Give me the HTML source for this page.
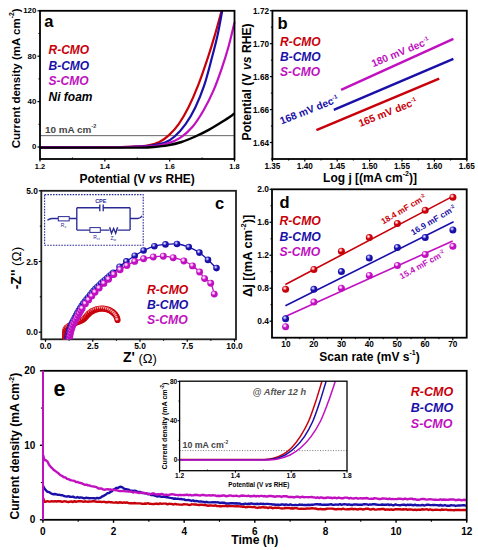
<!DOCTYPE html><html><head><meta charset="utf-8"><style>html,body{margin:0;padding:0;background:#fff;width:478px;height:550px;overflow:hidden}svg{display:block}text{font-family:"Liberation Sans", sans-serif}</style></head><body>
<svg width="478" height="550" viewBox="0 0 478 550">
<defs>
<radialGradient id="gr" cx="0.38" cy="0.35" r="0.65"><stop offset="0" stop-color="#fff"/><stop offset="0.18" stop-color="#ffb0b0"/><stop offset="0.5" stop-color="#c8000a"/><stop offset="1" stop-color="#c8000a"/></radialGradient>
<radialGradient id="gb" cx="0.38" cy="0.35" r="0.65"><stop offset="0" stop-color="#fff"/><stop offset="0.18" stop-color="#a0a0ff"/><stop offset="0.5" stop-color="#1a10a8"/><stop offset="1" stop-color="#1a10a8"/></radialGradient>
<radialGradient id="gm" cx="0.38" cy="0.35" r="0.65"><stop offset="0" stop-color="#fff"/><stop offset="0.18" stop-color="#ffc0ff"/><stop offset="0.5" stop-color="#c010c0"/><stop offset="1" stop-color="#c010c0"/></radialGradient>
</defs>
<rect width="478" height="550" fill="#fff"/>
<line x1="40.00" y1="135.65" x2="234.50" y2="135.65" stroke="#555" stroke-width="0.90" />
<text x="45.00" y="132.70" font-size="9.90" font-weight="bold" font-style="normal" text-anchor="start" fill="#444" >10 mA cm<tspan dy="-5.00" font-size="5.50">-2</tspan><tspan dy="5.00"></tspan></text>
<path d="M40.00,147.30 C51.67,147.28 95.00,147.28 110.00,147.20 C125.00,147.12 125.00,146.97 130.00,146.80 C135.00,146.63 136.95,146.43 140.00,146.20 C143.05,145.97 145.07,146.10 148.30,145.40 C151.53,144.70 155.95,143.72 159.40,142.00 C162.85,140.28 165.78,138.08 169.00,135.10 C172.22,132.12 175.47,128.70 178.70,124.10 C181.93,119.50 185.17,113.95 188.40,107.50 C191.63,101.05 194.87,93.68 198.10,85.40 C201.33,77.12 205.03,66.10 207.80,57.80 C210.57,49.50 212.40,43.43 214.70,35.60 C217.00,27.77 220.45,14.93 221.60,10.80" fill="none" stroke="#c8000a" stroke-width="2.2"/>
<path d="M40.00,147.30 C51.67,147.28 94.17,147.32 110.00,147.20 C125.83,147.08 128.15,146.87 135.00,146.60 C141.85,146.33 146.12,146.27 151.10,145.60 C156.08,144.93 160.98,144.12 164.90,142.60 C168.82,141.08 171.15,139.58 174.60,136.50 C178.05,133.42 182.15,128.93 185.60,124.10 C189.05,119.27 192.20,113.95 195.30,107.50 C198.40,101.05 201.43,93.68 204.20,85.40 C206.97,77.12 209.68,66.10 211.90,57.80 C214.12,49.50 215.78,43.43 217.50,35.60 C219.22,27.77 221.42,14.93 222.20,10.80" fill="none" stroke="#1a10a8" stroke-width="2.2"/>
<path d="M40.00,147.30 C51.67,147.28 93.67,147.30 110.00,147.20 C126.33,147.10 130.70,146.87 138.00,146.70 C145.30,146.53 148.85,146.75 153.80,146.20 C158.75,145.65 163.32,144.78 167.70,143.40 C172.08,142.02 175.95,140.67 180.10,137.90 C184.25,135.13 188.68,131.40 192.60,126.80 C196.52,122.20 200.15,116.28 203.60,110.30 C207.05,104.32 210.30,97.82 213.30,90.90 C216.30,83.98 219.07,76.17 221.60,68.80 C224.13,61.43 226.43,54.07 228.50,46.70 C230.57,39.33 233.00,28.52 234.00,24.60 C235.00,20.68 234.42,23.43 234.50,23.20" fill="none" stroke="#c010c0" stroke-width="2.2"/>
<path d="M40.00,147.60 C53.33,147.60 103.33,147.60 120.00,147.60 C136.67,147.60 134.37,147.70 140.00,147.60 C145.63,147.50 149.18,147.37 153.80,147.00 C158.42,146.63 163.08,146.23 167.70,145.40 C172.32,144.57 176.90,143.48 181.50,142.00 C186.10,140.52 190.68,138.57 195.30,136.50 C199.92,134.43 204.58,132.13 209.20,129.60 C213.82,127.07 218.78,123.97 223.00,121.30 C227.22,118.63 232.58,114.88 234.50,113.60" fill="none" stroke="#000" stroke-width="2.4"/>
<rect x="40.00" y="10.80" width="194.50" height="148.20" fill="none" stroke="#000" stroke-width="1.80"/>
<line x1="37.50" y1="147.00" x2="40.00" y2="147.00" stroke="#000" stroke-width="1.20" />
<line x1="37.50" y1="101.60" x2="40.00" y2="101.60" stroke="#000" stroke-width="1.20" />
<line x1="37.50" y1="56.20" x2="40.00" y2="56.20" stroke="#000" stroke-width="1.20" />
<line x1="37.50" y1="10.80" x2="40.00" y2="10.80" stroke="#000" stroke-width="1.20" />
<line x1="38.50" y1="124.30" x2="40.00" y2="124.30" stroke="#000" stroke-width="1.00" />
<line x1="38.50" y1="78.90" x2="40.00" y2="78.90" stroke="#000" stroke-width="1.00" />
<line x1="38.50" y1="33.50" x2="40.00" y2="33.50" stroke="#000" stroke-width="1.00" />
<line x1="40.00" y1="159.00" x2="40.00" y2="161.50" stroke="#000" stroke-width="1.20" />
<line x1="104.83" y1="159.00" x2="104.83" y2="161.50" stroke="#000" stroke-width="1.20" />
<line x1="169.67" y1="159.00" x2="169.67" y2="161.50" stroke="#000" stroke-width="1.20" />
<line x1="234.50" y1="159.00" x2="234.50" y2="161.50" stroke="#000" stroke-width="1.20" />
<line x1="72.42" y1="159.00" x2="72.42" y2="157.50" stroke="#000" stroke-width="1.00" />
<line x1="137.25" y1="159.00" x2="137.25" y2="157.50" stroke="#000" stroke-width="1.00" />
<line x1="202.08" y1="159.00" x2="202.08" y2="157.50" stroke="#000" stroke-width="1.00" />
<text x="36.40" y="149.30" font-size="7.90" font-weight="bold" font-style="normal" text-anchor="end" fill="#000" >0</text>
<text x="36.40" y="103.90" font-size="7.90" font-weight="bold" font-style="normal" text-anchor="end" fill="#000" >40</text>
<text x="36.40" y="58.50" font-size="7.90" font-weight="bold" font-style="normal" text-anchor="end" fill="#000" >80</text>
<text x="36.40" y="13.10" font-size="7.90" font-weight="bold" font-style="normal" text-anchor="end" fill="#000" >120</text>
<text x="40.00" y="168.90" font-size="7.40" font-weight="bold" font-style="normal" text-anchor="middle" fill="#000" >1.2</text>
<text x="104.83" y="168.90" font-size="7.40" font-weight="bold" font-style="normal" text-anchor="middle" fill="#000" >1.4</text>
<text x="169.67" y="168.90" font-size="7.40" font-weight="bold" font-style="normal" text-anchor="middle" fill="#000" >1.6</text>
<text x="234.50" y="168.90" font-size="7.40" font-weight="bold" font-style="normal" text-anchor="middle" fill="#000" >1.8</text>
<text x="137.20" y="182.60" font-size="12.00" font-weight="bold" font-style="normal" text-anchor="middle" fill="#000" >Potential (V <tspan font-style="italic">vs</tspan> RHE)</text>
<text transform="translate(20.00,148.30) rotate(-90.00)" x="0" y="0" font-size="11.50" font-weight="bold" text-anchor="start" fill="#000">Current density (mA cm<tspan dx="0.8"></tspan><tspan dy="-5.60" font-size="6.80">-2</tspan><tspan dy="5.60"><tspan dx="0.5"></tspan>)</tspan></text>
<text x="44.20" y="27.30" font-size="16.50" font-weight="bold" font-style="normal" text-anchor="start" fill="#000" >a</text>
<text x="48.50" y="54.30" font-size="12.00" font-weight="bold" font-style="italic" text-anchor="start" fill="#c8000a" >R-CMO</text>
<text x="48.50" y="69.60" font-size="12.00" font-weight="bold" font-style="italic" text-anchor="start" fill="#1a10a8" >B-CMO</text>
<text x="48.50" y="84.50" font-size="12.00" font-weight="bold" font-style="italic" text-anchor="start" fill="#c010c0" >S-CMO</text>
<text x="48.50" y="100.60" font-size="12.00" font-weight="bold" font-style="italic" text-anchor="start" fill="#000" >Ni foam</text>
<line x1="341.10" y1="89.80" x2="453.40" y2="38.80" stroke="#c010c0" stroke-width="2.50" />
<line x1="333.80" y1="109.90" x2="453.40" y2="58.90" stroke="#1a10a8" stroke-width="2.50" />
<line x1="316.40" y1="130.20" x2="439.20" y2="78.60" stroke="#c8000a" stroke-width="2.50" />
<rect x="272.40" y="10.70" width="194.40" height="148.30" fill="none" stroke="#000" stroke-width="1.80"/>
<line x1="269.90" y1="142.52" x2="272.40" y2="142.52" stroke="#000" stroke-width="1.20" />
<text x="269.00" y="145.52" font-size="8.20" font-weight="bold" font-style="normal" text-anchor="end" fill="#000" >1.64</text>
<line x1="269.90" y1="109.57" x2="272.40" y2="109.57" stroke="#000" stroke-width="1.20" />
<text x="269.00" y="112.57" font-size="8.20" font-weight="bold" font-style="normal" text-anchor="end" fill="#000" >1.66</text>
<line x1="269.90" y1="76.61" x2="272.40" y2="76.61" stroke="#000" stroke-width="1.20" />
<text x="269.00" y="79.61" font-size="8.20" font-weight="bold" font-style="normal" text-anchor="end" fill="#000" >1.68</text>
<line x1="269.90" y1="43.66" x2="272.40" y2="43.66" stroke="#000" stroke-width="1.20" />
<text x="269.00" y="46.66" font-size="8.20" font-weight="bold" font-style="normal" text-anchor="end" fill="#000" >1.70</text>
<line x1="269.90" y1="10.70" x2="272.40" y2="10.70" stroke="#000" stroke-width="1.20" />
<text x="269.00" y="13.70" font-size="8.20" font-weight="bold" font-style="normal" text-anchor="end" fill="#000" >1.72</text>
<line x1="270.90" y1="159.00" x2="272.40" y2="159.00" stroke="#000" stroke-width="1.00" />
<line x1="270.90" y1="126.04" x2="272.40" y2="126.04" stroke="#000" stroke-width="1.00" />
<line x1="270.90" y1="93.09" x2="272.40" y2="93.09" stroke="#000" stroke-width="1.00" />
<line x1="270.90" y1="60.13" x2="272.40" y2="60.13" stroke="#000" stroke-width="1.00" />
<line x1="270.90" y1="27.18" x2="272.40" y2="27.18" stroke="#000" stroke-width="1.00" />
<line x1="272.40" y1="159.00" x2="272.40" y2="161.50" stroke="#000" stroke-width="1.20" />
<text x="272.40" y="169.00" font-size="8.20" font-weight="bold" font-style="normal" text-anchor="middle" fill="#000" >1.35</text>
<line x1="304.80" y1="159.00" x2="304.80" y2="161.50" stroke="#000" stroke-width="1.20" />
<text x="304.80" y="169.00" font-size="8.20" font-weight="bold" font-style="normal" text-anchor="middle" fill="#000" >1.40</text>
<line x1="337.20" y1="159.00" x2="337.20" y2="161.50" stroke="#000" stroke-width="1.20" />
<text x="337.20" y="169.00" font-size="8.20" font-weight="bold" font-style="normal" text-anchor="middle" fill="#000" >1.45</text>
<line x1="369.60" y1="159.00" x2="369.60" y2="161.50" stroke="#000" stroke-width="1.20" />
<text x="369.60" y="169.00" font-size="8.20" font-weight="bold" font-style="normal" text-anchor="middle" fill="#000" >1.50</text>
<line x1="402.00" y1="159.00" x2="402.00" y2="161.50" stroke="#000" stroke-width="1.20" />
<text x="402.00" y="169.00" font-size="8.20" font-weight="bold" font-style="normal" text-anchor="middle" fill="#000" >1.55</text>
<line x1="434.40" y1="159.00" x2="434.40" y2="161.50" stroke="#000" stroke-width="1.20" />
<text x="434.40" y="169.00" font-size="8.20" font-weight="bold" font-style="normal" text-anchor="middle" fill="#000" >1.60</text>
<line x1="466.80" y1="159.00" x2="466.80" y2="161.50" stroke="#000" stroke-width="1.20" />
<text x="466.80" y="169.00" font-size="8.20" font-weight="bold" font-style="normal" text-anchor="middle" fill="#000" >1.65</text>
<line x1="288.60" y1="159.00" x2="288.60" y2="160.50" stroke="#000" stroke-width="1.00" />
<line x1="321.00" y1="159.00" x2="321.00" y2="160.50" stroke="#000" stroke-width="1.00" />
<line x1="353.40" y1="159.00" x2="353.40" y2="160.50" stroke="#000" stroke-width="1.00" />
<line x1="385.80" y1="159.00" x2="385.80" y2="160.50" stroke="#000" stroke-width="1.00" />
<line x1="418.20" y1="159.00" x2="418.20" y2="160.50" stroke="#000" stroke-width="1.00" />
<line x1="450.60" y1="159.00" x2="450.60" y2="160.50" stroke="#000" stroke-width="1.00" />
<text x="370.00" y="182.20" font-size="12.00" font-weight="bold" font-style="normal" text-anchor="middle" fill="#000" >Log j [(mA cm<tspan dx="0.8"></tspan><tspan dy="-6.00" font-size="7.00">-2</tspan><tspan dy="6.00"><tspan dx="0.6"></tspan>)]</tspan></text>
<text transform="translate(250.50,140.50) rotate(-90.00)" x="0" y="0" font-size="12.20" font-weight="bold" text-anchor="start" fill="#000">Potential (V <tspan font-style="italic">vs</tspan> RHE)</text>
<text x="277.50" y="28.80" font-size="16.50" font-weight="bold" font-style="normal" text-anchor="start" fill="#000" >b</text>
<text x="280.00" y="46.00" font-size="12.00" font-weight="bold" font-style="italic" text-anchor="start" fill="#c8000a" >R-CMO</text>
<text x="280.00" y="61.20" font-size="12.00" font-weight="bold" font-style="italic" text-anchor="start" fill="#1a10a8" >B-CMO</text>
<text x="280.00" y="76.20" font-size="12.00" font-weight="bold" font-style="italic" text-anchor="start" fill="#c010c0" >S-CMO</text>
<text transform="translate(373.2,67.2) rotate(-22.5)" font-size="10.3" font-weight="bold" fill="#c010c0">180 mV dec<tspan dy="-4" font-size="6">-1</tspan></text>
<text transform="translate(281.6,124.5) rotate(-21.5)" font-size="10.3" font-weight="bold" fill="#1a10a8">168 mV dec<tspan dy="-4" font-size="6">-1</tspan></text>
<text transform="translate(360.2,127) rotate(-21.5)" font-size="10.3" font-weight="bold" fill="#c8000a">165 mV dec<tspan dy="-4" font-size="6">-1</tspan></text>
<rect x="41.30" y="190.80" width="194.70" height="148.50" fill="none" stroke="#222" stroke-width="1.80"/>
<line x1="38.80" y1="332.20" x2="41.30" y2="332.20" stroke="#000" stroke-width="1.20" />
<text x="37.80" y="335.20" font-size="8.40" font-weight="bold" font-style="normal" text-anchor="end" fill="#000" >0.0</text>
<line x1="38.80" y1="261.50" x2="41.30" y2="261.50" stroke="#000" stroke-width="1.20" />
<text x="37.80" y="264.50" font-size="8.40" font-weight="bold" font-style="normal" text-anchor="end" fill="#000" >2.5</text>
<line x1="38.80" y1="190.80" x2="41.30" y2="190.80" stroke="#000" stroke-width="1.20" />
<text x="37.80" y="193.80" font-size="8.40" font-weight="bold" font-style="normal" text-anchor="end" fill="#000" >5.0</text>
<line x1="39.80" y1="296.85" x2="41.30" y2="296.85" stroke="#000" stroke-width="1.00" />
<line x1="39.80" y1="226.15" x2="41.30" y2="226.15" stroke="#000" stroke-width="1.00" />
<line x1="45.50" y1="339.30" x2="45.50" y2="341.80" stroke="#000" stroke-width="1.20" />
<text x="45.50" y="348.80" font-size="8.40" font-weight="bold" font-style="normal" text-anchor="middle" fill="#000" >0.0</text>
<line x1="92.75" y1="339.30" x2="92.75" y2="341.80" stroke="#000" stroke-width="1.20" />
<text x="92.75" y="348.80" font-size="8.40" font-weight="bold" font-style="normal" text-anchor="middle" fill="#000" >2.5</text>
<line x1="140.00" y1="339.30" x2="140.00" y2="341.80" stroke="#000" stroke-width="1.20" />
<text x="140.00" y="348.80" font-size="8.40" font-weight="bold" font-style="normal" text-anchor="middle" fill="#000" >5.0</text>
<line x1="187.25" y1="339.30" x2="187.25" y2="341.80" stroke="#000" stroke-width="1.20" />
<text x="187.25" y="348.80" font-size="8.40" font-weight="bold" font-style="normal" text-anchor="middle" fill="#000" >7.5</text>
<line x1="234.50" y1="339.30" x2="234.50" y2="341.80" stroke="#000" stroke-width="1.20" />
<text x="234.50" y="348.80" font-size="8.40" font-weight="bold" font-style="normal" text-anchor="middle" fill="#000" >10.0</text>
<line x1="69.12" y1="339.30" x2="69.12" y2="340.80" stroke="#000" stroke-width="1.00" />
<line x1="116.38" y1="339.30" x2="116.38" y2="340.80" stroke="#000" stroke-width="1.00" />
<line x1="163.62" y1="339.30" x2="163.62" y2="340.80" stroke="#000" stroke-width="1.00" />
<line x1="210.88" y1="339.30" x2="210.88" y2="340.80" stroke="#000" stroke-width="1.00" />
<text x="123" y="362" font-size="14" font-weight="bold">Z'</text>
<text x="138.5" y="362.5" font-size="13" font-weight="normal">(Ω)</text>
<text transform="translate(21.0,289.3) rotate(-90)" font-size="14"><tspan font-weight="bold">-Z''</tspan><tspan dx="3.5" font-weight="normal" font-size="13.5">(Ω)</tspan></text>
<text x="215" y="208.5" font-size="16.5" font-weight="bold">c</text>
<text x="147.00" y="293.90" font-size="12.20" font-weight="bold" font-style="italic" text-anchor="start" fill="#c8000a" >R-CMO</text>
<text x="147.00" y="309.00" font-size="12.20" font-weight="bold" font-style="italic" text-anchor="start" fill="#1a10a8" >B-CMO</text>
<text x="147.00" y="324.00" font-size="12.20" font-weight="bold" font-style="italic" text-anchor="start" fill="#c010c0" >S-CMO</text>
<rect x="44.6" y="194.6" width="98.6" height="50.7" fill="none" stroke="#2a2a96" stroke-width="1.1" stroke-dasharray="1.6,1.2"/>
<path d="M47.4,220.3 Q49.5,218.5 52,218.5 L58.3,218.5" fill="none" stroke="#2a2a96" stroke-width="1.35"/>
<rect x="58.3" y="216.6" width="10.9" height="4.3" fill="#fff" stroke="#2a2a96" stroke-width="1"/>
<path d="M69.2,218.5 L76.8,218.5 M76.8,207.7 L76.8,230.1 M76.8,207.7 L99.8,207.7 M103.2,207.7 L130.1,207.7 M99.8,204.4 L99.8,211.2 M103.2,204.4 L103.2,211.2 M76.8,230.1 L89.9,230.1 M100.3,230.1 L109.5,230.1 M117.7,230.1 L130.1,230.1 M130.1,207.7 L130.1,230.1 M130.1,218.5 L138,218.5 Q140.5,218.5 142,215.9" fill="none" stroke="#2a2a96" stroke-width="1.35"/>
<rect x="89.9" y="227.6" width="10.4" height="4.8" fill="#fff" stroke="#2a2a96" stroke-width="1"/>
<path d="M109.6,227.2 L111.5,233.2 L113.6,228.5 L115.7,233.2 L117.6,227.2" fill="none" stroke="#2a2a96" stroke-width="1.4"/>
<text x="100.8" y="202.6" font-size="5.5" font-weight="bold" text-anchor="middle" fill="#2a2a96">CPE</text>
<text x="63.5" y="227.2" font-size="5" text-anchor="middle" fill="#2a2a96">R<tspan font-size="3.5" dy="1">s</tspan></text>
<text x="96.5" y="238.6" font-size="5" text-anchor="middle" fill="#2a2a96">R<tspan font-size="3.5" dy="1">ct</tspan></text>
<text x="113.2" y="240.2" font-size="5" text-anchor="middle" fill="#2a2a96">Z<tspan font-size="3.5" dy="1">w</tspan></text>
<clipPath id="clipc"><rect x="41.3" y="190.8" width="194.7" height="148.5"/></clipPath>
<g clip-path="url(#clipc)">
<path d="M65.20,341.00 C65.20,340.58 65.17,340.27 65.20,338.50 C65.23,336.73 65.02,332.32 65.40,330.40 C65.78,328.48 66.07,328.15 67.50,327.00 C68.93,325.85 71.40,324.75 74.00,323.50 C76.60,322.25 80.45,321.30 83.10,319.50 C85.75,317.70 87.63,314.40 89.90,312.70 C92.17,311.00 94.43,309.98 96.70,309.30 C98.97,308.62 101.23,308.38 103.50,308.60 C105.77,308.82 108.25,309.47 110.30,310.60 C112.35,311.73 114.55,313.70 115.80,315.40 C117.05,317.10 117.47,319.90 117.80,320.80" fill="none" stroke="#c8000a" stroke-width="1.3"/>
<circle cx="65.20" cy="341.00" r="3.10" fill="url(#gr)"/>
<circle cx="65.19" cy="339.10" r="3.10" fill="url(#gr)"/>
<circle cx="65.20" cy="337.16" r="3.10" fill="url(#gr)"/>
<circle cx="65.17" cy="335.21" r="3.10" fill="url(#gr)"/>
<circle cx="65.18" cy="333.11" r="3.10" fill="url(#gr)"/>
<circle cx="65.30" cy="331.04" r="3.10" fill="url(#gr)"/>
<circle cx="65.72" cy="329.13" r="3.10" fill="url(#gr)"/>
<circle cx="66.85" cy="327.54" r="3.10" fill="url(#gr)"/>
<circle cx="68.48" cy="326.31" r="3.10" fill="url(#gr)"/>
<circle cx="70.15" cy="325.37" r="3.10" fill="url(#gr)"/>
<circle cx="71.90" cy="324.50" r="3.10" fill="url(#gr)"/>
<circle cx="73.81" cy="323.59" r="3.10" fill="url(#gr)"/>
<circle cx="75.69" cy="322.78" r="3.10" fill="url(#gr)"/>
<circle cx="77.56" cy="322.07" r="3.10" fill="url(#gr)"/>
<circle cx="79.50" cy="321.33" r="3.10" fill="url(#gr)"/>
<circle cx="81.39" cy="320.49" r="3.10" fill="url(#gr)"/>
<circle cx="83.10" cy="319.50" r="3.10" fill="url(#gr)"/>
<circle cx="84.61" cy="318.26" r="3.10" fill="url(#gr)"/>
<circle cx="85.99" cy="316.82" r="3.10" fill="url(#gr)"/>
<circle cx="87.29" cy="315.31" r="3.10" fill="url(#gr)"/>
<circle cx="88.58" cy="313.89" r="3.10" fill="url(#gr)"/>
<circle cx="90.07" cy="312.57" r="3.10" fill="url(#gr)"/>
<circle cx="91.77" cy="311.45" r="3.10" fill="url(#gr)"/>
<circle cx="93.47" cy="310.54" r="3.10" fill="url(#gr)"/>
<circle cx="95.34" cy="309.75" r="3.10" fill="url(#gr)"/>
<circle cx="97.21" cy="309.15" r="3.10" fill="url(#gr)"/>
<circle cx="99.08" cy="308.75" r="3.10" fill="url(#gr)"/>
<circle cx="101.12" cy="308.54" r="3.10" fill="url(#gr)"/>
<circle cx="103.16" cy="308.57" r="3.10" fill="url(#gr)"/>
<circle cx="105.06" cy="308.81" r="3.10" fill="url(#gr)"/>
<circle cx="106.98" cy="309.26" r="3.10" fill="url(#gr)"/>
<circle cx="108.86" cy="309.91" r="3.10" fill="url(#gr)"/>
<circle cx="110.61" cy="310.78" r="3.10" fill="url(#gr)"/>
<circle cx="112.31" cy="311.93" r="3.10" fill="url(#gr)"/>
<circle cx="113.78" cy="313.17" r="3.10" fill="url(#gr)"/>
<circle cx="115.18" cy="314.62" r="3.10" fill="url(#gr)"/>
<circle cx="116.31" cy="316.23" r="3.10" fill="url(#gr)"/>
<circle cx="117.05" cy="318.09" r="3.10" fill="url(#gr)"/>
<circle cx="117.55" cy="319.94" r="3.10" fill="url(#gr)"/>
<path d="M67.50,341.00 C67.58,340.17 67.50,338.33 68.00,336.00 C68.50,333.67 69.33,330.08 70.50,327.00 C71.67,323.92 73.25,320.83 75.00,317.50 C76.75,314.17 78.95,310.15 81.00,307.00 C83.05,303.85 85.22,301.27 87.30,298.60 C89.38,295.93 91.72,293.02 93.50,291.00 C95.28,288.98 96.42,288.03 98.00,286.50 C99.58,284.97 101.33,283.30 103.00,281.80 C104.67,280.30 106.20,279.05 108.00,277.50 C109.80,275.95 111.87,274.30 113.80,272.50 C115.73,270.70 117.50,268.55 119.60,266.70 C121.70,264.85 123.88,263.23 126.40,261.40 C128.92,259.57 131.83,257.52 134.70,255.70 C137.57,253.88 140.32,252.08 143.60,250.50 C146.88,248.92 150.75,247.22 154.40,246.20 C158.05,245.18 161.73,244.77 165.50,244.40 C169.27,244.03 173.12,243.55 177.00,244.00 C180.88,244.45 185.07,245.67 188.80,247.10 C192.53,248.53 196.20,250.47 199.40,252.60 C202.60,254.73 205.15,257.32 208.00,259.90 C210.85,262.48 215.08,266.73 216.50,268.10" fill="none" stroke="#1a10a8" stroke-width="1.3"/>
<circle cx="67.50" cy="341.00" r="3.30" fill="url(#gb)"/>
<circle cx="67.64" cy="338.39" r="3.30" fill="url(#gb)"/>
<circle cx="68.08" cy="335.64" r="3.30" fill="url(#gb)"/>
<circle cx="68.70" cy="332.94" r="3.30" fill="url(#gb)"/>
<circle cx="69.40" cy="330.35" r="3.30" fill="url(#gb)"/>
<circle cx="70.24" cy="327.70" r="3.30" fill="url(#gb)"/>
<circle cx="71.25" cy="325.15" r="3.30" fill="url(#gb)"/>
<circle cx="72.42" cy="322.58" r="3.30" fill="url(#gb)"/>
<circle cx="73.60" cy="320.20" r="3.30" fill="url(#gb)"/>
<circle cx="74.87" cy="317.75" r="3.30" fill="url(#gb)"/>
<circle cx="76.10" cy="315.43" r="3.30" fill="url(#gb)"/>
<circle cx="77.43" cy="313.00" r="3.30" fill="url(#gb)"/>
<circle cx="78.82" cy="310.56" r="3.30" fill="url(#gb)"/>
<circle cx="80.23" cy="308.22" r="3.30" fill="url(#gb)"/>
<circle cx="81.77" cy="305.84" r="3.30" fill="url(#gb)"/>
<circle cx="83.34" cy="303.66" r="3.30" fill="url(#gb)"/>
<circle cx="84.93" cy="301.60" r="3.30" fill="url(#gb)"/>
<circle cx="86.67" cy="299.40" r="3.30" fill="url(#gb)"/>
<circle cx="88.41" cy="297.18" r="3.30" fill="url(#gb)"/>
<circle cx="90.19" cy="294.95" r="3.30" fill="url(#gb)"/>
<circle cx="91.92" cy="292.84" r="3.30" fill="url(#gb)"/>
<circle cx="93.63" cy="290.85" r="3.30" fill="url(#gb)"/>
<circle cx="95.51" cy="288.88" r="3.30" fill="url(#gb)"/>
<circle cx="97.43" cy="287.05" r="3.30" fill="url(#gb)"/>
<circle cx="99.34" cy="285.21" r="3.30" fill="url(#gb)"/>
<circle cx="101.23" cy="283.42" r="3.30" fill="url(#gb)"/>
<circle cx="103.25" cy="281.58" r="3.30" fill="url(#gb)"/>
<circle cx="105.33" cy="279.77" r="3.30" fill="url(#gb)"/>
<circle cx="107.34" cy="278.07" r="3.30" fill="url(#gb)"/>
<circle cx="109.36" cy="276.32" r="3.30" fill="url(#gb)"/>
<circle cx="111.38" cy="274.59" r="3.30" fill="url(#gb)"/>
<circle cx="113.35" cy="272.89" r="3.30" fill="url(#gb)"/>
<circle cx="119.60" cy="266.70" r="3.30" fill="url(#gb)"/>
<circle cx="126.40" cy="261.40" r="3.30" fill="url(#gb)"/>
<circle cx="134.70" cy="255.70" r="3.30" fill="url(#gb)"/>
<circle cx="143.60" cy="250.50" r="3.30" fill="url(#gb)"/>
<circle cx="154.40" cy="246.20" r="3.30" fill="url(#gb)"/>
<circle cx="165.50" cy="244.40" r="3.30" fill="url(#gb)"/>
<circle cx="177.00" cy="244.00" r="3.30" fill="url(#gb)"/>
<circle cx="188.80" cy="247.10" r="3.30" fill="url(#gb)"/>
<circle cx="199.40" cy="252.60" r="3.30" fill="url(#gb)"/>
<circle cx="208.00" cy="259.90" r="3.30" fill="url(#gb)"/>
<circle cx="216.50" cy="268.10" r="3.30" fill="url(#gb)"/>
<path d="M69.50,341.00 C69.55,340.20 69.37,338.48 69.80,336.20 C70.23,333.92 70.98,330.28 72.10,327.30 C73.22,324.32 74.80,321.48 76.50,318.30 C78.20,315.12 80.82,310.63 82.30,308.20 C83.78,305.77 84.35,305.08 85.40,303.70 C86.45,302.32 87.53,301.17 88.60,299.90 C89.67,298.63 90.73,297.37 91.80,296.10 C92.87,294.83 93.77,293.63 95.00,292.30 C96.23,290.97 97.72,289.58 99.20,288.10 C100.68,286.62 102.33,284.88 103.90,283.40 C105.47,281.92 106.95,280.68 108.60,279.20 C110.25,277.72 111.88,276.07 113.80,274.50 C115.72,272.93 117.92,271.28 120.10,269.80 C122.28,268.32 124.47,267.00 126.90,265.60 C129.33,264.20 131.92,262.53 134.70,261.40 C137.48,260.27 140.50,259.53 143.60,258.80 C146.70,258.07 150.02,257.43 153.30,257.00 C156.58,256.57 159.98,256.08 163.30,256.20 C166.62,256.32 169.77,256.90 173.20,257.70 C176.63,258.50 180.68,259.63 183.90,261.00 C187.12,262.37 189.88,264.07 192.50,265.90 C195.12,267.73 197.58,269.88 199.60,272.00 C201.62,274.12 202.75,276.73 204.60,278.60 C206.45,280.47 209.08,280.62 210.70,283.20 C212.32,285.78 213.70,292.28 214.30,294.10" fill="none" stroke="#c010c0" stroke-width="1.3"/>
<circle cx="69.50" cy="341.00" r="3.45" fill="url(#gm)"/>
<circle cx="69.54" cy="338.37" r="3.45" fill="url(#gm)"/>
<circle cx="69.90" cy="335.66" r="3.45" fill="url(#gm)"/>
<circle cx="70.48" cy="332.94" r="3.45" fill="url(#gm)"/>
<circle cx="71.13" cy="330.35" r="3.45" fill="url(#gm)"/>
<circle cx="71.94" cy="327.75" r="3.45" fill="url(#gm)"/>
<circle cx="72.92" cy="325.30" r="3.45" fill="url(#gm)"/>
<circle cx="74.08" cy="322.88" r="3.45" fill="url(#gm)"/>
<circle cx="75.37" cy="320.40" r="3.45" fill="url(#gm)"/>
<circle cx="76.63" cy="318.06" r="3.45" fill="url(#gm)"/>
<circle cx="77.99" cy="315.62" r="3.45" fill="url(#gm)"/>
<circle cx="79.34" cy="313.27" r="3.45" fill="url(#gm)"/>
<circle cx="80.79" cy="310.77" r="3.45" fill="url(#gm)"/>
<circle cx="82.14" cy="308.48" r="3.45" fill="url(#gm)"/>
<circle cx="85.40" cy="303.70" r="3.45" fill="url(#gm)"/>
<circle cx="88.60" cy="299.90" r="3.45" fill="url(#gm)"/>
<circle cx="91.80" cy="296.10" r="3.45" fill="url(#gm)"/>
<circle cx="95.00" cy="292.30" r="3.45" fill="url(#gm)"/>
<circle cx="99.20" cy="288.10" r="3.45" fill="url(#gm)"/>
<circle cx="103.90" cy="283.40" r="3.45" fill="url(#gm)"/>
<circle cx="108.60" cy="279.20" r="3.45" fill="url(#gm)"/>
<circle cx="113.80" cy="274.50" r="3.45" fill="url(#gm)"/>
<circle cx="120.10" cy="269.80" r="3.45" fill="url(#gm)"/>
<circle cx="126.90" cy="265.60" r="3.45" fill="url(#gm)"/>
<circle cx="134.70" cy="261.40" r="3.45" fill="url(#gm)"/>
<circle cx="143.60" cy="258.80" r="3.45" fill="url(#gm)"/>
<circle cx="153.30" cy="257.00" r="3.45" fill="url(#gm)"/>
<circle cx="163.30" cy="256.20" r="3.45" fill="url(#gm)"/>
<circle cx="173.20" cy="257.70" r="3.45" fill="url(#gm)"/>
<circle cx="183.90" cy="261.00" r="3.45" fill="url(#gm)"/>
<circle cx="192.50" cy="265.90" r="3.45" fill="url(#gm)"/>
<circle cx="199.60" cy="272.00" r="3.45" fill="url(#gm)"/>
<circle cx="204.60" cy="278.60" r="3.45" fill="url(#gm)"/>
<circle cx="210.70" cy="283.20" r="3.45" fill="url(#gm)"/>
<circle cx="214.30" cy="294.10" r="3.45" fill="url(#gm)"/>
</g>
<rect x="272.00" y="189.30" width="194.70" height="148.40" fill="none" stroke="#000" stroke-width="1.80"/>
<line x1="269.50" y1="321.21" x2="272.00" y2="321.21" stroke="#000" stroke-width="1.20" />
<text x="269.00" y="324.21" font-size="8.40" font-weight="bold" font-style="normal" text-anchor="end" fill="#000" >0.4</text>
<line x1="269.50" y1="288.23" x2="272.00" y2="288.23" stroke="#000" stroke-width="1.20" />
<text x="269.00" y="291.23" font-size="8.40" font-weight="bold" font-style="normal" text-anchor="end" fill="#000" >0.8</text>
<line x1="269.50" y1="255.26" x2="272.00" y2="255.26" stroke="#000" stroke-width="1.20" />
<text x="269.00" y="258.26" font-size="8.40" font-weight="bold" font-style="normal" text-anchor="end" fill="#000" >1.2</text>
<line x1="269.50" y1="222.28" x2="272.00" y2="222.28" stroke="#000" stroke-width="1.20" />
<text x="269.00" y="225.28" font-size="8.40" font-weight="bold" font-style="normal" text-anchor="end" fill="#000" >1.6</text>
<line x1="269.50" y1="189.30" x2="272.00" y2="189.30" stroke="#000" stroke-width="1.20" />
<text x="269.00" y="192.30" font-size="8.40" font-weight="bold" font-style="normal" text-anchor="end" fill="#000" >2.0</text>
<line x1="270.50" y1="304.72" x2="272.00" y2="304.72" stroke="#000" stroke-width="1.00" />
<line x1="270.50" y1="271.74" x2="272.00" y2="271.74" stroke="#000" stroke-width="1.00" />
<line x1="270.50" y1="238.77" x2="272.00" y2="238.77" stroke="#000" stroke-width="1.00" />
<line x1="270.50" y1="205.79" x2="272.00" y2="205.79" stroke="#000" stroke-width="1.00" />
<line x1="285.91" y1="337.70" x2="285.91" y2="340.20" stroke="#000" stroke-width="1.20" />
<text x="285.91" y="347.20" font-size="8.20" font-weight="bold" font-style="normal" text-anchor="middle" fill="#000" >10</text>
<line x1="313.72" y1="337.70" x2="313.72" y2="340.20" stroke="#000" stroke-width="1.20" />
<text x="313.72" y="347.20" font-size="8.20" font-weight="bold" font-style="normal" text-anchor="middle" fill="#000" >20</text>
<line x1="341.54" y1="337.70" x2="341.54" y2="340.20" stroke="#000" stroke-width="1.20" />
<text x="341.54" y="347.20" font-size="8.20" font-weight="bold" font-style="normal" text-anchor="middle" fill="#000" >30</text>
<line x1="369.35" y1="337.70" x2="369.35" y2="340.20" stroke="#000" stroke-width="1.20" />
<text x="369.35" y="347.20" font-size="8.20" font-weight="bold" font-style="normal" text-anchor="middle" fill="#000" >40</text>
<line x1="397.16" y1="337.70" x2="397.16" y2="340.20" stroke="#000" stroke-width="1.20" />
<text x="397.16" y="347.20" font-size="8.20" font-weight="bold" font-style="normal" text-anchor="middle" fill="#000" >50</text>
<line x1="424.98" y1="337.70" x2="424.98" y2="340.20" stroke="#000" stroke-width="1.20" />
<text x="424.98" y="347.20" font-size="8.20" font-weight="bold" font-style="normal" text-anchor="middle" fill="#000" >60</text>
<line x1="452.79" y1="337.70" x2="452.79" y2="340.20" stroke="#000" stroke-width="1.20" />
<text x="452.79" y="347.20" font-size="8.20" font-weight="bold" font-style="normal" text-anchor="middle" fill="#000" >70</text>
<line x1="299.81" y1="337.70" x2="299.81" y2="339.20" stroke="#000" stroke-width="1.00" />
<line x1="327.63" y1="337.70" x2="327.63" y2="339.20" stroke="#000" stroke-width="1.00" />
<line x1="355.44" y1="337.70" x2="355.44" y2="339.20" stroke="#000" stroke-width="1.00" />
<line x1="383.26" y1="337.70" x2="383.26" y2="339.20" stroke="#000" stroke-width="1.00" />
<line x1="411.07" y1="337.70" x2="411.07" y2="339.20" stroke="#000" stroke-width="1.00" />
<line x1="438.89" y1="337.70" x2="438.89" y2="339.20" stroke="#000" stroke-width="1.00" />
<text x="369.50" y="361.20" font-size="12.00" font-weight="bold" font-style="normal" text-anchor="middle" fill="#000" >Scan rate (mV s<tspan dx="0.8"></tspan><tspan dy="-6.00" font-size="7.00">-1</tspan><tspan dy="6.00"><tspan dx="0.6"></tspan>)</tspan></text>
<text transform="translate(251.80,297.00) rotate(-90.00)" x="0" y="0" font-size="12.80" font-weight="bold" text-anchor="start" fill="#000">Δj [(mA cm<tspan dx="0.8"></tspan><tspan dy="-6.20" font-size="7.50">-2</tspan><tspan dy="6.20"><tspan dx="0.6"></tspan>)]</tspan></text>
<text x="279.50" y="207.60" font-size="16.50" font-weight="bold" font-style="normal" text-anchor="start" fill="#000" >d</text>
<text x="279.50" y="225.30" font-size="12.20" font-weight="bold" font-style="italic" text-anchor="start" fill="#c8000a" >R-CMO</text>
<text x="279.50" y="240.90" font-size="12.20" font-weight="bold" font-style="italic" text-anchor="start" fill="#1a10a8" >B-CMO</text>
<text x="279.50" y="256.20" font-size="12.20" font-weight="bold" font-style="italic" text-anchor="start" fill="#c010c0" >S-CMO</text>
<line x1="285.40" y1="284.50" x2="452.70" y2="196.40" stroke="#c8000a" stroke-width="1.60" />
<line x1="285.40" y1="305.70" x2="453.60" y2="221.80" stroke="#1a10a8" stroke-width="1.60" />
<line x1="285.40" y1="316.60" x2="452.70" y2="240.90" stroke="#c010c0" stroke-width="1.60" />
<circle cx="285.60" cy="289.30" r="3.50" fill="url(#gr)"/>
<circle cx="313.90" cy="269.50" r="3.50" fill="url(#gr)"/>
<circle cx="341.40" cy="251.20" r="3.50" fill="url(#gr)"/>
<circle cx="369.30" cy="237.60" r="3.50" fill="url(#gr)"/>
<circle cx="397.40" cy="223.40" r="3.50" fill="url(#gr)"/>
<circle cx="425.20" cy="210.30" r="3.50" fill="url(#gr)"/>
<circle cx="452.90" cy="197.20" r="3.50" fill="url(#gr)"/>
<circle cx="285.60" cy="318.80" r="3.50" fill="url(#gb)"/>
<circle cx="313.90" cy="289.30" r="3.50" fill="url(#gb)"/>
<circle cx="341.40" cy="271.60" r="3.50" fill="url(#gb)"/>
<circle cx="369.30" cy="258.00" r="3.50" fill="url(#gb)"/>
<circle cx="397.40" cy="247.40" r="3.50" fill="url(#gb)"/>
<circle cx="425.20" cy="237.60" r="3.50" fill="url(#gb)"/>
<circle cx="452.90" cy="229.90" r="3.50" fill="url(#gb)"/>
<circle cx="285.60" cy="326.70" r="3.50" fill="url(#gm)"/>
<circle cx="313.90" cy="302.10" r="3.50" fill="url(#gm)"/>
<circle cx="341.40" cy="288.30" r="3.50" fill="url(#gm)"/>
<circle cx="369.30" cy="275.40" r="3.50" fill="url(#gm)"/>
<circle cx="397.40" cy="265.40" r="3.50" fill="url(#gm)"/>
<circle cx="425.20" cy="254.50" r="3.50" fill="url(#gm)"/>
<circle cx="452.90" cy="246.30" r="3.50" fill="url(#gm)"/>
<text transform="translate(383.3,224.6) rotate(-30.5)" font-size="8.4" font-weight="bold" fill="#c8000a">18.4 mF cm<tspan dy="-3.3" font-size="5.2">-2</tspan></text>
<text transform="translate(413.0,235.4) rotate(-30.5)" font-size="8.4" font-weight="bold" fill="#1a10a8">16.9 mF cm<tspan dy="-3.3" font-size="5.2">-2</tspan></text>
<text transform="translate(401.6,279.4) rotate(-29)" font-size="8.4" font-weight="bold" fill="#c010c0">15.4 mF cm<tspan dy="-3.3" font-size="5.2">-2</tspan></text>
<path d="M43.00,497.84 L44.50,501.69 L46.00,501.74 L47.50,501.20 L49.00,501.61 L50.50,501.45 L52.00,501.17 L53.50,501.58 L55.00,501.16 L56.50,501.52 L58.00,501.20 L59.50,501.22 L61.00,501.53 L62.50,501.89 L64.00,501.26 L65.50,501.35 L67.00,501.71 L68.50,502.00 L70.00,501.66 L71.50,501.49 L73.00,502.00 L74.50,501.15 L76.00,501.88 L77.50,501.36 L79.00,501.22 L80.50,501.20 L82.00,501.37 L83.50,501.83 L85.00,501.26 L86.50,501.63 L88.00,501.70 L89.50,501.47 L91.00,501.66 L92.50,501.25 L94.00,501.28 L95.50,501.45 L97.00,501.92 L98.50,501.73 L100.00,501.68 L101.50,501.97 L103.00,501.90 L104.50,501.82 L106.00,502.32 L107.50,502.29 L109.00,501.93 L110.50,502.29 L112.00,502.30 L113.50,502.67 L115.00,502.59 L116.50,502.25 L118.00,502.93 L119.50,502.21 L121.00,502.54 L122.50,502.91 L124.00,502.42 L125.50,502.79 L127.00,502.45 L128.50,503.08 L130.00,503.23 L131.50,503.12 L133.00,503.45 L134.50,503.01 L136.00,503.41 L137.50,503.38 L139.00,503.42 L140.50,503.36 L142.00,503.76 L143.50,503.90 L145.00,503.52 L146.50,503.73 L148.00,503.23 L149.50,503.84 L151.00,503.82 L152.50,504.17 L154.00,504.05 L155.50,503.60 L157.00,503.73 L158.50,504.02 L160.00,503.47 L161.50,503.90 L163.00,503.67 L164.50,503.66 L166.00,503.64 L167.50,504.31 L169.00,503.76 L170.50,503.90 L172.00,504.06 L173.50,504.52 L175.00,503.84 L176.50,504.21 L178.00,504.33 L179.50,504.66 L181.00,504.64 L182.50,504.71 L184.00,504.22 L185.50,504.39 L187.00,504.37 L188.50,504.89 L190.00,505.00 L191.50,504.32 L193.00,504.39 L194.50,504.49 L196.00,504.55 L197.50,504.83 L199.00,504.99 L200.50,504.76 L202.00,504.59 L203.50,505.03 L205.00,505.05 L206.50,505.30 L208.00,505.72 L209.50,505.55 L211.00,505.47 L212.50,505.63 L214.00,505.76 L215.50,505.27 L217.00,506.10 L218.50,506.07 L220.00,506.22 L221.50,506.23 L223.00,505.93 L224.50,506.00 L226.00,505.80 L227.50,506.34 L229.00,505.89 L230.50,505.96 L232.00,506.15 L233.50,506.17 L235.00,506.39 L236.50,506.20 L238.00,506.21 L239.50,506.41 L241.00,506.43 L242.50,506.72 L244.00,506.48 L245.50,507.30 L247.00,507.13 L248.50,506.77 L250.00,506.92 L251.50,507.06 L253.00,507.13 L254.50,506.96 L256.00,507.67 L257.50,507.85 L259.00,507.42 L260.50,507.49 L262.00,507.18 L263.50,507.24 L265.00,507.49 L266.50,507.47 L268.00,508.01 L269.50,507.45 L271.00,507.36 L272.50,508.23 L274.00,507.89 L275.50,507.58 L277.00,507.97 L278.50,507.54 L280.00,508.03 L281.50,508.46 L283.00,508.39 L284.50,508.27 L286.00,507.91 L287.50,508.04 L289.00,507.89 L290.50,508.47 L292.00,508.29 L293.50,508.54 L295.00,508.17 L296.50,508.11 L298.00,508.68 L299.50,508.87 L301.00,508.79 L302.50,508.79 L304.00,508.84 L305.50,508.81 L307.00,508.38 L308.50,508.67 L310.00,508.56 L311.50,508.29 L313.00,508.31 L314.50,508.56 L316.00,508.56 L317.50,508.97 L319.00,509.22 L320.50,508.78 L322.00,509.23 L323.50,509.29 L325.00,509.27 L326.50,508.75 L328.00,508.63 L329.50,508.65 L331.00,508.63 L332.50,508.64 L334.00,509.03 L335.50,509.29 L337.00,509.24 L338.50,508.92 L340.00,509.09 L341.50,509.23 L343.00,508.59 L344.50,509.11 L346.00,509.35 L347.50,509.24 L349.00,509.22 L350.50,508.98 L352.00,508.72 L353.50,509.28 L355.00,508.88 L356.50,509.31 L358.00,509.47 L359.50,508.96 L361.00,508.98 L362.50,509.48 L364.00,509.29 L365.50,508.80 L367.00,508.78 L368.50,508.81 L370.00,509.50 L371.50,509.43 L373.00,508.85 L374.50,509.48 L376.00,509.63 L377.50,509.35 L379.00,509.09 L380.50,509.29 L382.00,508.93 L383.50,508.84 L385.00,509.72 L386.50,509.45 L388.00,509.35 L389.50,509.74 L391.00,509.30 L392.50,509.72 L394.00,509.69 L395.50,509.15 L397.00,509.21 L398.50,509.26 L400.00,509.23 L401.50,509.56 L403.00,509.28 L404.50,509.44 L406.00,509.20 L407.50,509.91 L409.00,509.43 L410.50,509.54 L412.00,509.66 L413.50,509.96 L415.00,509.54 L416.50,510.00 L418.00,509.64 L419.50,509.68 L421.00,509.69 L422.50,509.24 L424.00,509.64 L425.50,509.42 L427.00,509.27 L428.50,509.99 L430.00,509.44 L431.50,509.72 L433.00,509.96 L434.50,509.82 L436.00,509.63 L437.50,509.81 L439.00,509.85 L440.50,510.07 L442.00,509.47 L443.50,509.89 L445.00,509.62 L446.50,509.66 L448.00,510.11 L449.50,509.89 L451.00,509.95 L452.50,510.14 L454.00,510.28 L455.50,509.87 L457.00,510.04 L458.50,509.95 L460.00,509.97 L461.50,510.14 L463.00,509.93 L464.50,510.02 L466.00,509.98" fill="none" stroke="#c8000a" stroke-width="2.4" stroke-linejoin="round"/>
<path d="M43.00,485.70 L44.50,488.56 L46.00,490.39 L47.50,491.78 L49.00,492.11 L50.50,493.06 L52.00,493.93 L53.50,494.27 L55.00,494.01 L56.50,494.32 L58.00,494.89 L59.50,494.82 L61.00,495.21 L62.50,495.28 L64.00,496.02 L65.50,496.32 L67.00,496.60 L68.50,496.11 L70.00,496.78 L71.50,496.88 L73.00,496.57 L74.50,497.37 L76.00,497.58 L77.50,497.03 L79.00,497.81 L80.50,497.44 L82.00,497.64 L83.50,498.22 L85.00,498.20 L86.50,497.71 L88.00,498.06 L89.50,498.23 L91.00,498.15 L92.50,498.08 L94.00,498.23 L95.50,498.60 L97.00,497.92 L98.50,498.27 L100.00,497.90 L101.50,496.93 L103.00,496.12 L104.50,495.35 L106.00,494.43 L107.50,493.15 L109.00,493.05 L110.50,491.93 L112.00,491.17 L113.50,489.49 L115.00,488.80 L116.50,487.83 L118.00,487.88 L119.50,487.02 L121.00,486.81 L122.50,487.42 L124.00,488.59 L125.50,489.26 L127.00,489.32 L128.50,489.60 L130.00,490.61 L131.50,490.60 L133.00,491.02 L134.50,490.76 L136.00,491.02 L137.50,491.88 L139.00,491.93 L140.50,491.91 L142.00,492.98 L143.50,493.01 L145.00,493.47 L146.50,493.15 L148.00,494.20 L149.50,493.89 L151.00,495.03 L152.50,495.06 L154.00,495.33 L155.50,495.85 L157.00,496.47 L158.50,496.15 L160.00,496.27 L161.50,496.85 L163.00,496.82 L164.50,496.92 L166.00,497.18 L167.50,497.29 L169.00,497.63 L170.50,497.93 L172.00,498.12 L173.50,498.73 L175.00,498.50 L176.50,498.87 L178.00,498.77 L179.50,499.11 L181.00,498.99 L182.50,499.38 L184.00,499.34 L185.50,500.16 L187.00,500.16 L188.50,500.00 L190.00,500.42 L191.50,500.99 L193.00,500.40 L194.50,501.18 L196.00,500.98 L197.50,501.17 L199.00,501.62 L200.50,501.35 L202.00,501.58 L203.50,501.86 L205.00,502.25 L206.50,501.79 L208.00,502.34 L209.50,502.34 L211.00,502.38 L212.50,502.27 L214.00,502.32 L215.50,502.16 L217.00,502.32 L218.50,502.35 L220.00,503.04 L221.50,502.69 L223.00,502.69 L224.50,502.70 L226.00,503.46 L227.50,503.56 L229.00,503.45 L230.50,503.16 L232.00,503.19 L233.50,503.29 L235.00,503.49 L236.50,503.26 L238.00,503.57 L239.50,503.44 L241.00,504.11 L242.50,504.15 L244.00,503.81 L245.50,503.56 L247.00,504.24 L248.50,503.68 L250.00,503.76 L251.50,503.46 L253.00,503.84 L254.50,503.95 L256.00,504.01 L257.50,503.77 L259.00,504.07 L260.50,503.66 L262.00,503.93 L263.50,503.81 L265.00,504.12 L266.50,503.84 L268.00,503.86 L269.50,504.15 L271.00,504.12 L272.50,504.47 L274.00,504.46 L275.50,504.69 L277.00,504.64 L278.50,504.73 L280.00,504.91 L281.50,504.50 L283.00,504.48 L284.50,505.10 L286.00,504.37 L287.50,504.92 L289.00,504.87 L290.50,504.35 L292.00,505.08 L293.50,505.15 L295.00,504.92 L296.50,505.03 L298.00,505.10 L299.50,504.49 L301.00,504.82 L302.50,504.79 L304.00,505.06 L305.50,505.01 L307.00,505.00 L308.50,504.76 L310.00,505.02 L311.50,504.81 L313.00,504.80 L314.50,504.37 L316.00,504.19 L317.50,504.27 L319.00,504.47 L320.50,504.24 L322.00,504.89 L323.50,504.64 L325.00,504.70 L326.50,504.69 L328.00,504.74 L329.50,504.56 L331.00,504.13 L332.50,504.84 L334.00,504.79 L335.50,504.57 L337.00,504.60 L338.50,504.71 L340.00,504.17 L341.50,504.78 L343.00,504.34 L344.50,504.18 L346.00,504.35 L347.50,504.77 L349.00,504.30 L350.50,504.78 L352.00,504.99 L353.50,504.56 L355.00,504.46 L356.50,504.55 L358.00,504.74 L359.50,504.82 L361.00,504.69 L362.50,504.72 L364.00,504.21 L365.50,504.28 L367.00,504.38 L368.50,504.83 L370.00,504.44 L371.50,504.69 L373.00,504.20 L374.50,504.25 L376.00,504.45 L377.50,504.82 L379.00,504.85 L380.50,504.85 L382.00,504.51 L383.50,504.73 L385.00,504.69 L386.50,504.71 L388.00,504.41 L389.50,505.12 L391.00,504.51 L392.50,505.22 L394.00,505.20 L395.50,504.39 L397.00,504.80 L398.50,505.14 L400.00,505.29 L401.50,504.83 L403.00,504.69 L404.50,504.65 L406.00,505.33 L407.50,504.68 L409.00,505.03 L410.50,504.65 L412.00,505.01 L413.50,505.41 L415.00,504.69 L416.50,505.32 L418.00,505.06 L419.50,505.41 L421.00,505.26 L422.50,504.85 L424.00,505.47 L425.50,505.12 L427.00,504.72 L428.50,504.72 L430.00,505.17 L431.50,505.15 L433.00,505.03 L434.50,504.91 L436.00,505.11 L437.50,505.10 L439.00,505.59 L440.50,504.85 L442.00,505.54 L443.50,505.64 L445.00,505.01 L446.50,505.75 L448.00,505.58 L449.50,505.77 L451.00,505.23 L452.50,505.33 L454.00,505.36 L455.50,505.93 L457.00,505.57 L458.50,505.39 L460.00,505.47 L461.50,505.35 L463.00,505.16 L464.50,505.22 L466.00,505.90" fill="none" stroke="#1a10a8" stroke-width="2.4" stroke-linejoin="round"/>
<path d="M43.00,454.81 L44.50,460.11 L46.00,460.30 L47.50,461.59 L49.00,464.75 L50.50,466.54 L52.00,468.07 L53.50,469.76 L55.00,470.80 L56.50,471.86 L58.00,472.89 L59.50,474.34 L61.00,475.51 L62.50,476.21 L64.00,477.30 L65.50,477.49 L67.00,478.80 L68.50,479.16 L70.00,480.00 L71.50,480.42 L73.00,480.60 L74.50,480.87 L76.00,482.14 L77.50,481.90 L79.00,482.69 L80.50,483.02 L82.00,483.41 L83.50,484.23 L85.00,484.85 L86.50,484.61 L88.00,485.36 L89.50,485.43 L91.00,486.07 L92.50,486.33 L94.00,486.55 L95.50,486.96 L97.00,487.41 L98.50,488.43 L100.00,488.42 L101.50,488.50 L103.00,489.40 L104.50,489.72 L106.00,489.42 L107.50,489.30 L109.00,489.48 L110.50,489.51 L112.00,489.86 L113.50,489.75 L115.00,490.02 L116.50,490.20 L118.00,490.63 L119.50,491.07 L121.00,491.11 L122.50,490.96 L124.00,491.12 L125.50,491.37 L127.00,491.39 L128.50,491.50 L130.00,491.41 L131.50,491.75 L133.00,492.53 L134.50,491.92 L136.00,492.40 L137.50,492.65 L139.00,493.00 L140.50,492.54 L142.00,492.73 L143.50,492.84 L145.00,493.12 L146.50,493.31 L148.00,493.90 L149.50,493.94 L151.00,494.08 L152.50,493.43 L154.00,493.55 L155.50,494.25 L157.00,494.51 L158.50,494.21 L160.00,494.38 L161.50,493.91 L163.00,494.32 L164.50,494.85 L166.00,494.81 L167.50,494.87 L169.00,495.02 L170.50,494.40 L172.00,494.31 L173.50,494.39 L175.00,494.75 L176.50,494.93 L178.00,495.19 L179.50,495.02 L181.00,494.98 L182.50,495.12 L184.00,494.87 L185.50,494.98 L187.00,494.55 L188.50,495.25 L190.00,494.78 L191.50,495.43 L193.00,495.22 L194.50,494.95 L196.00,494.82 L197.50,494.97 L199.00,495.35 L200.50,495.44 L202.00,494.95 L203.50,494.94 L205.00,495.39 L206.50,495.47 L208.00,495.33 L209.50,495.22 L211.00,495.59 L212.50,495.09 L214.00,495.38 L215.50,495.56 L217.00,496.04 L218.50,495.78 L220.00,496.03 L221.50,495.69 L223.00,495.50 L224.50,495.53 L226.00,496.20 L227.50,495.99 L229.00,495.65 L230.50,495.42 L232.00,495.86 L233.50,496.03 L235.00,495.82 L236.50,495.68 L238.00,496.06 L239.50,496.31 L241.00,495.69 L242.50,495.52 L244.00,495.81 L245.50,495.89 L247.00,496.13 L248.50,495.71 L250.00,496.26 L251.50,496.22 L253.00,496.02 L254.50,495.76 L256.00,496.47 L257.50,495.89 L259.00,496.37 L260.50,495.86 L262.00,495.87 L263.50,496.38 L265.00,495.99 L266.50,496.61 L268.00,496.22 L269.50,495.97 L271.00,496.03 L272.50,496.24 L274.00,496.49 L275.50,496.78 L277.00,496.09 L278.50,496.34 L280.00,496.21 L281.50,496.93 L283.00,496.21 L284.50,496.17 L286.00,496.21 L287.50,496.54 L289.00,497.03 L290.50,497.06 L292.00,496.96 L293.50,497.24 L295.00,497.22 L296.50,496.72 L298.00,496.64 L299.50,497.37 L301.00,497.25 L302.50,496.67 L304.00,497.30 L305.50,497.10 L307.00,497.16 L308.50,497.18 L310.00,497.08 L311.50,496.98 L313.00,497.28 L314.50,497.38 L316.00,497.96 L317.50,497.25 L319.00,498.04 L320.50,497.39 L322.00,497.55 L323.50,498.00 L325.00,498.03 L326.50,497.71 L328.00,497.39 L329.50,497.80 L331.00,497.73 L332.50,498.25 L334.00,497.62 L335.50,497.80 L337.00,498.30 L338.50,497.55 L340.00,497.91 L341.50,498.30 L343.00,498.28 L344.50,497.65 L346.00,497.67 L347.50,497.72 L349.00,498.51 L350.50,497.94 L352.00,498.40 L353.50,498.56 L355.00,498.08 L356.50,498.05 L358.00,498.69 L359.50,498.40 L361.00,498.11 L362.50,498.54 L364.00,498.21 L365.50,498.19 L367.00,497.98 L368.50,498.68 L370.00,498.85 L371.50,498.62 L373.00,498.92 L374.50,498.12 L376.00,498.33 L377.50,498.58 L379.00,499.04 L380.50,499.06 L382.00,498.57 L383.50,498.48 L385.00,498.66 L386.50,498.75 L388.00,499.16 L389.50,498.52 L391.00,499.10 L392.50,499.07 L394.00,499.17 L395.50,499.15 L397.00,499.03 L398.50,498.80 L400.00,498.82 L401.50,498.88 L403.00,499.28 L404.50,498.68 L406.00,498.81 L407.50,499.33 L409.00,498.90 L410.50,498.76 L412.00,498.76 L413.50,499.25 L415.00,499.07 L416.50,499.68 L418.00,499.62 L419.50,499.74 L421.00,499.11 L422.50,498.97 L424.00,499.00 L425.50,499.39 L427.00,499.60 L428.50,499.39 L430.00,499.22 L431.50,499.41 L433.00,499.61 L434.50,499.68 L436.00,499.77 L437.50,499.88 L439.00,499.74 L440.50,499.28 L442.00,499.95 L443.50,499.48 L445.00,499.75 L446.50,499.59 L448.00,499.94 L449.50,499.48 L451.00,499.55 L452.50,499.57 L454.00,499.51 L455.50,500.19 L457.00,499.94 L458.50,499.73 L460.00,499.82 L461.50,500.38 L463.00,499.96 L464.50,499.74 L466.00,500.28" fill="none" stroke="#c010c0" stroke-width="2.4" stroke-linejoin="round"/>
<rect x="42.90" y="370.80" width="423.80" height="149.00" fill="none" stroke="#000" stroke-width="1.80"/>
<line x1="43.00" y1="370.80" x2="43.00" y2="456.00" stroke="#c010c0" stroke-width="2.00" />
<line x1="39.90" y1="519.80" x2="42.90" y2="519.80" stroke="#000" stroke-width="1.40" />
<text x="35.40" y="523.40" font-size="10.00" font-weight="bold" font-style="normal" text-anchor="end" fill="#000" >0</text>
<line x1="39.90" y1="445.30" x2="42.90" y2="445.30" stroke="#000" stroke-width="1.40" />
<text x="35.40" y="448.90" font-size="10.00" font-weight="bold" font-style="normal" text-anchor="end" fill="#000" >10</text>
<line x1="39.90" y1="370.80" x2="42.90" y2="370.80" stroke="#000" stroke-width="1.40" />
<text x="35.40" y="374.40" font-size="10.00" font-weight="bold" font-style="normal" text-anchor="end" fill="#000" >20</text>
<line x1="40.90" y1="482.55" x2="42.90" y2="482.55" stroke="#000" stroke-width="1.10" />
<line x1="40.90" y1="408.05" x2="42.90" y2="408.05" stroke="#000" stroke-width="1.10" />
<line x1="42.90" y1="519.80" x2="42.90" y2="522.80" stroke="#000" stroke-width="1.40" />
<text x="42.90" y="535.40" font-size="10.00" font-weight="bold" font-style="normal" text-anchor="middle" fill="#000" >0</text>
<line x1="113.53" y1="519.80" x2="113.53" y2="522.80" stroke="#000" stroke-width="1.40" />
<text x="113.53" y="535.40" font-size="10.00" font-weight="bold" font-style="normal" text-anchor="middle" fill="#000" >2</text>
<line x1="184.17" y1="519.80" x2="184.17" y2="522.80" stroke="#000" stroke-width="1.40" />
<text x="184.17" y="535.40" font-size="10.00" font-weight="bold" font-style="normal" text-anchor="middle" fill="#000" >4</text>
<line x1="254.80" y1="519.80" x2="254.80" y2="522.80" stroke="#000" stroke-width="1.40" />
<text x="254.80" y="535.40" font-size="10.00" font-weight="bold" font-style="normal" text-anchor="middle" fill="#000" >6</text>
<line x1="325.43" y1="519.80" x2="325.43" y2="522.80" stroke="#000" stroke-width="1.40" />
<text x="325.43" y="535.40" font-size="10.00" font-weight="bold" font-style="normal" text-anchor="middle" fill="#000" >8</text>
<line x1="396.07" y1="519.80" x2="396.07" y2="522.80" stroke="#000" stroke-width="1.40" />
<text x="396.07" y="535.40" font-size="10.00" font-weight="bold" font-style="normal" text-anchor="middle" fill="#000" >10</text>
<line x1="466.70" y1="519.80" x2="466.70" y2="522.80" stroke="#000" stroke-width="1.40" />
<text x="466.70" y="535.40" font-size="10.00" font-weight="bold" font-style="normal" text-anchor="middle" fill="#000" >12</text>
<line x1="78.22" y1="519.80" x2="78.22" y2="521.80" stroke="#000" stroke-width="1.10" />
<line x1="148.85" y1="519.80" x2="148.85" y2="521.80" stroke="#000" stroke-width="1.10" />
<line x1="219.48" y1="519.80" x2="219.48" y2="521.80" stroke="#000" stroke-width="1.10" />
<line x1="290.12" y1="519.80" x2="290.12" y2="521.80" stroke="#000" stroke-width="1.10" />
<line x1="360.75" y1="519.80" x2="360.75" y2="521.80" stroke="#000" stroke-width="1.10" />
<line x1="431.38" y1="519.80" x2="431.38" y2="521.80" stroke="#000" stroke-width="1.10" />
<line x1="43.00" y1="370.80" x2="43.00" y2="519.80" stroke="#c010c0" stroke-width="2.00" />
<text x="254.80" y="544.20" font-size="12.20" font-weight="bold" font-style="normal" text-anchor="middle" fill="#000" >Time (h)</text>
<text transform="translate(19.40,519.60) rotate(-90.00)" x="0" y="0" font-size="12.10" font-weight="bold" text-anchor="start" fill="#000">Current density (mA cm<tspan dx="0.8"></tspan><tspan dy="-5.80" font-size="7.00">-2</tspan><tspan dy="5.80"><tspan dx="0.6"></tspan>)</tspan></text>
<text x="53.50" y="395.70" font-size="21.50" font-weight="bold" font-style="normal" text-anchor="start" fill="#000" >e</text>
<text x="410.80" y="395.80" font-size="12.50" font-weight="bold" font-style="italic" text-anchor="start" fill="#c8000a" >R-CMO</text>
<text x="410.80" y="412.00" font-size="12.50" font-weight="bold" font-style="italic" text-anchor="start" fill="#1a10a8" >B-CMO</text>
<text x="410.80" y="428.00" font-size="12.50" font-weight="bold" font-style="italic" text-anchor="start" fill="#c010c0" >S-CMO</text>
<rect x="150" y="376" width="200" height="114" fill="#fff"/>
<line x1="179.60" y1="450.60" x2="347.00" y2="450.60" stroke="#666" stroke-width="0.90" stroke-dasharray="1,1.6"/>
<text x="182.50" y="448.30" font-size="8.80" font-weight="bold" font-style="normal" text-anchor="start" fill="#444" >10 mA cm<tspan dy="-4.50" font-size="5.00">-2</tspan><tspan dy="4.50"></tspan></text>
<path d="M180.00,459.60 C188.33,459.60 217.50,459.60 230.00,459.60 C242.50,459.60 249.45,459.62 255.00,459.60 C260.55,459.58 260.23,459.72 263.30,459.50 C266.37,459.28 270.05,459.18 273.40,458.30 C276.75,457.42 280.33,456.00 283.40,454.20 C286.47,452.40 289.00,450.43 291.80,447.50 C294.60,444.57 297.42,440.93 300.20,436.60 C302.98,432.27 306.00,427.08 308.50,421.50 C311.00,415.92 312.97,409.80 315.20,403.10 C317.43,396.40 320.78,384.93 321.90,381.30" fill="none" stroke="#c8000a" stroke-width="1.5"/>
<path d="M180.00,459.80 C188.33,459.80 217.00,459.82 230.00,459.80 C243.00,459.78 250.77,459.82 258.00,459.70 C265.23,459.58 268.88,459.88 273.40,459.10 C277.92,458.32 281.48,456.93 285.10,455.00 C288.72,453.07 291.88,450.57 295.10,447.50 C298.32,444.43 301.47,440.93 304.40,436.60 C307.33,432.27 310.20,427.08 312.70,421.50 C315.20,415.92 317.17,409.80 319.40,403.10 C321.63,396.40 324.98,384.93 326.10,381.30" fill="none" stroke="#1a10a8" stroke-width="1.5"/>
<path d="M180.00,460.00 C188.33,460.00 216.12,460.00 230.00,460.00 C243.88,460.00 255.52,460.13 263.30,460.00 C271.08,459.87 272.23,460.03 276.70,459.20 C281.17,458.37 286.05,456.95 290.10,455.00 C294.15,453.05 297.52,450.57 301.00,447.50 C304.48,444.43 307.78,440.93 311.00,436.60 C314.22,432.27 317.50,427.08 320.30,421.50 C323.10,415.92 325.30,409.80 327.80,403.10 C330.30,396.40 334.05,384.93 335.30,381.30" fill="none" stroke="#c010c0" stroke-width="1.5"/>
<rect x="179.60" y="381.20" width="167.40" height="89.50" fill="none" stroke="#000" stroke-width="1.30"/>
<line x1="177.60" y1="460.00" x2="179.60" y2="460.00" stroke="#000" stroke-width="1.00" />
<text x="177.30" y="462.30" font-size="6.60" font-weight="bold" font-style="normal" text-anchor="end" fill="#000" >0</text>
<line x1="177.60" y1="420.70" x2="179.60" y2="420.70" stroke="#000" stroke-width="1.00" />
<text x="177.30" y="423.00" font-size="6.60" font-weight="bold" font-style="normal" text-anchor="end" fill="#000" >40</text>
<line x1="177.60" y1="381.40" x2="179.60" y2="381.40" stroke="#000" stroke-width="1.00" />
<text x="177.30" y="383.70" font-size="6.60" font-weight="bold" font-style="normal" text-anchor="end" fill="#000" >80</text>
<line x1="178.40" y1="440.35" x2="179.60" y2="440.35" stroke="#000" stroke-width="0.80" />
<line x1="178.40" y1="401.05" x2="179.60" y2="401.05" stroke="#000" stroke-width="0.80" />
<line x1="179.60" y1="470.70" x2="179.60" y2="472.70" stroke="#000" stroke-width="1.00" />
<text x="179.60" y="478.40" font-size="6.60" font-weight="bold" font-style="normal" text-anchor="middle" fill="#000" >1.2</text>
<line x1="235.40" y1="470.70" x2="235.40" y2="472.70" stroke="#000" stroke-width="1.00" />
<text x="235.40" y="478.40" font-size="6.60" font-weight="bold" font-style="normal" text-anchor="middle" fill="#000" >1.4</text>
<line x1="291.20" y1="470.70" x2="291.20" y2="472.70" stroke="#000" stroke-width="1.00" />
<text x="291.20" y="478.40" font-size="6.60" font-weight="bold" font-style="normal" text-anchor="middle" fill="#000" >1.6</text>
<line x1="347.00" y1="470.70" x2="347.00" y2="472.70" stroke="#000" stroke-width="1.00" />
<text x="347.00" y="478.40" font-size="6.60" font-weight="bold" font-style="normal" text-anchor="middle" fill="#000" >1.8</text>
<line x1="207.50" y1="470.70" x2="207.50" y2="469.50" stroke="#000" stroke-width="0.80" />
<line x1="263.30" y1="470.70" x2="263.30" y2="469.50" stroke="#000" stroke-width="0.80" />
<line x1="319.10" y1="470.70" x2="319.10" y2="469.50" stroke="#000" stroke-width="0.80" />
<text x="258.80" y="487.40" font-size="6.35" font-weight="bold" font-style="normal" text-anchor="middle" fill="#000" >Potential (V <tspan font-style="italic">vs</tspan> RHE)</text>
<text transform="translate(167.00,469.50) rotate(-90.00)" x="0" y="0" font-size="7.10" font-weight="bold" text-anchor="start" fill="#000">Current density (mA cm<tspan dy="-2.70" font-size="4.80">-2</tspan><tspan dy="2.70">)</tspan></text>
<text x="252.60" y="394.70" font-size="9.20" font-weight="bold" font-style="italic" text-anchor="start" fill="#555" >@ After 12 h</text>
</svg></body></html>
